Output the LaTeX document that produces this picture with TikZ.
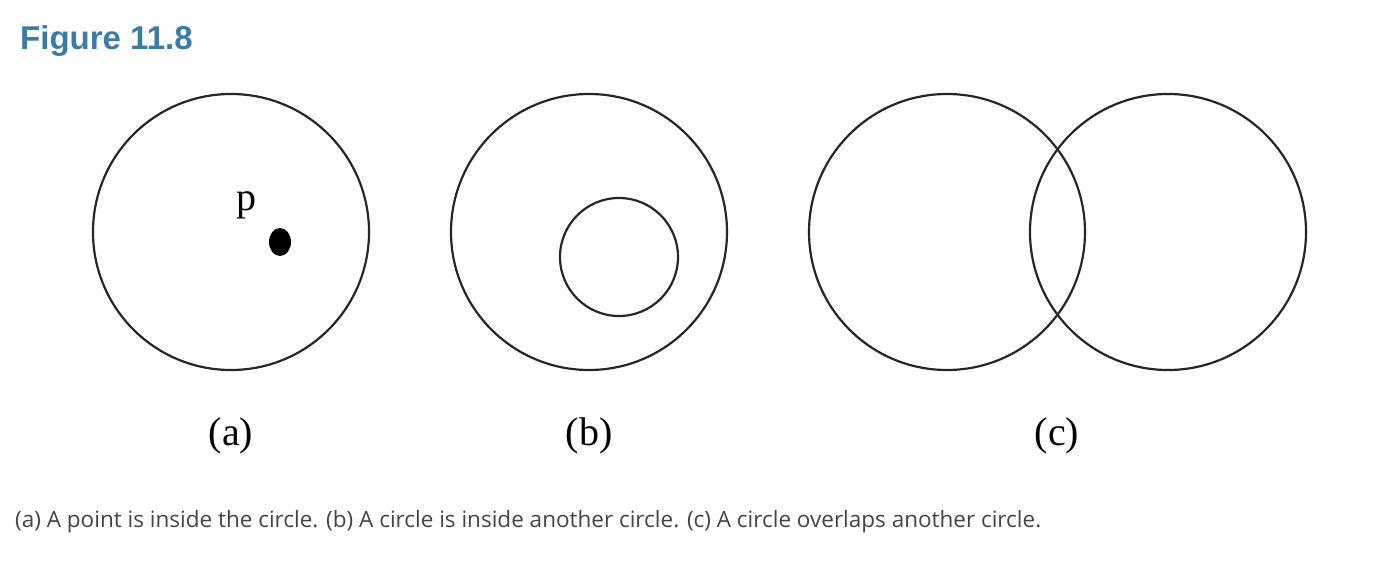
\documentclass[tikz,border=0pt]{standalone}
\usepackage{fontspec}
\usetikzlibrary{shapes.geometric}
\setmainfont{Liberation Serif}
\newfontfamily\titlefont{Liberation Sans}
\newfontfamily\capfont{Open Sans}
\definecolor{titleblue}{HTML}{3A7CA5}
\definecolor{capgray}{HTML}{444444}
\begin{document}
\begin{tikzpicture}[x=1pt,y=-1pt,
  ring/.style={draw=black!85,line width=2.2pt},
  lbl/.style={font=\fontsize{40}{44}\selectfont}]
\useasboundingbox (0,0) rectangle (1393,572);
\node[anchor=west,font=\titlefont\bfseries\fontsize{33}{36}\selectfont,text=titleblue,inner sep=0] (title) at (20,41) {Figure 11.8};
\node[ring,circle,minimum size=276pt,inner sep=0] (ca) at (231,232) {};
\node[fill=black,ellipse,minimum width=22pt,minimum height=28pt,inner sep=0,draw=none] (pt) at (280,242) {};
\node[lbl,inner sep=0] (p) at (246,205) {p};
\node[ring,circle,minimum size=276pt,inner sep=0] (cb) at (589,232) {};
\node[ring,circle,minimum size=118pt,inner sep=0] (cbs) at (619,257) {};
\node[ring,circle,minimum size=276pt,inner sep=0] (cc1) at (947,232) {};
\node[ring,circle,minimum size=276pt,inner sep=0] (cc2) at (1168,232) {};
\node[lbl] (la) at (231,436) {(a)};
\node[lbl] (lb) at (589,436) {(b)};
\node[lbl] (lc) at (1057,436) {(c)};
\node[anchor=west,font=\capfont\fontsize{22.5}{26}\selectfont,text=capgray,inner sep=0] (cap) at (15,522) {(a) A point is inside the circle. (b) A circle is inside another circle. (c) A circle overlaps another circle.};
\end{tikzpicture}
\end{document}
